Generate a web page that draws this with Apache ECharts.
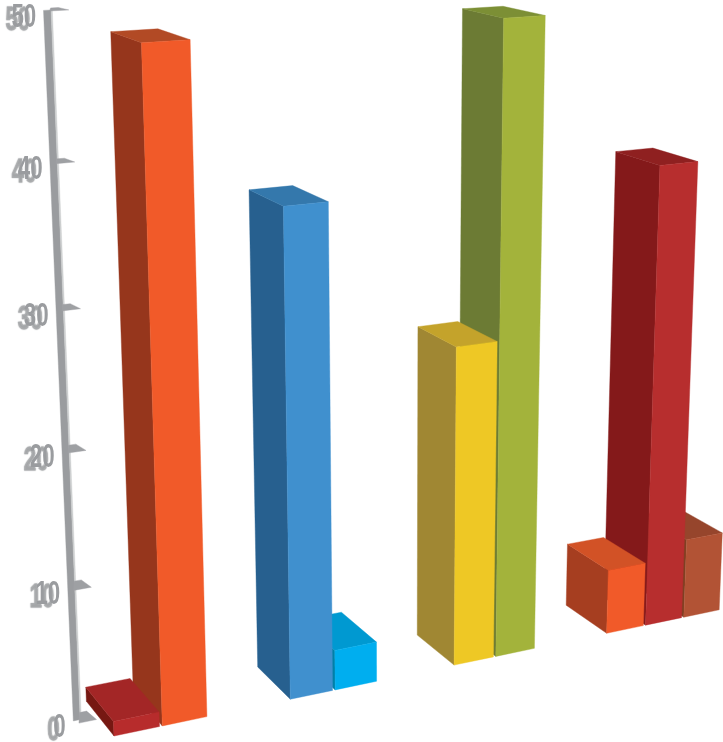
<!DOCTYPE html>
<html>
<head>
<meta charset="utf-8">
<style>html,body{margin:0;padding:0;background:#fff}#c{width:723px;height:742px}</style>
<script src="https://cdn.jsdelivr.net/npm/echarts@6/dist/echarts.min.js"></script>
</head>
<body>
<div id="c"></div>
<script>
// ---- data ----
const categories = ['A', 'B', 'C', 'D'];
const seriesA = [1.1, 36.3, 24.7, 5.2];
const seriesB = [48, 3.1, 48.1, 36.5];
const seriesC = [null, null, null, 6.5];
const tickValues = [0, 10, 20, 30, 40, 50];
const tickLabels = ['0', '10', '20', '30', '40', '50'];

// ---- colours: [front, side, top] per category ----
const paletteA = [['#B72C2C', '#761812', '#A32626'], ['#4090CE', '#27608F', '#3478AC'], ['#EEC825', '#A08733', '#C4A32B'], ['#F15A29', '#A63E20', '#D25226']];
const paletteB = [['#F15A29', '#96361C', '#B24A25'], ['#00AEEF', '#0080A8', '#0099D1'], ['#A3B33B', '#6C7B34', '#7C8F35'], ['#B72E2E', '#84191A', '#8F2020']];
const paletteC = [null, null, null, ['#B25335', '#7F3F22', '#96452C']];

// ---- three-point perspective of the flat chart plane ----
const O = [114, 736], VX = [4900, -262], VZ = [-670, -250], VY = [400, 8500];
const Y_UNIT = 0.0017, GROUP_PITCH = 0.03825, SLOT_PITCH = 0.0102, BAR_W = 0.0096, DEPTH = 0.0365;
const AXIS_X = -0.0045, AXIS_Z = 0.0208, AXIS_HALF = 0.00072, TICK_LEN = 0.0037, TICK_DEPTH = 0.0095;
const H = 742, YMAX = 50;

function project(X, v, Z) {
  const k = -Y_UNIT * v, w = 1 + X + Z + k;
  return [(O[0] + X * VX[0] + Z * VZ[0] + k * VY[0]) / w, (O[1] + X * VX[1] + Z * VZ[1] + k * VY[1]) / w];
}
function flatValue(py) { return (H - py) / H * YMAX; }
function worldX(api, c) { const band = api.size([1, 0])[0]; return (c[0] - band / 2) / band * GROUP_PITCH; }

function poly(points, color) {
  return { type: 'polygon', shape: { points }, style: { fill: color, stroke: color, lineWidth: 0.4 } };
}

function barRenderer(slot, palette) {
  return function (params, api) {
    const cat = api.value(0), val = api.value(1);
    const cTop = api.coord([cat, val]), cBase = api.coord([cat, 0]);
    const v = flatValue(cTop[1]), v0 = flatValue(cBase[1]);
    const X0 = worldX(api, cTop) + slot * SLOT_PITCH, X1 = X0 + BAR_W;
    const col = palette[cat];
    return {
      type: 'group',
      children: [
        poly([project(X0, v0, 0), project(X0, v, 0), project(X0, v, DEPTH), project(X0, v0, DEPTH)], col[1]),
        poly([project(X0, v, 0), project(X1, v, 0), project(X1, v, DEPTH), project(X0, v, DEPTH)], col[2]),
        poly([project(X0, v0, 0), project(X0, v, 0), project(X1, v, 0), project(X1, v0, 0)], col[0])
      ]
    };
  };
}

function axisRenderer(params, api) {
  const vTop = flatValue(api.coord([0, api.value(1)])[1]), vBase = flatValue(api.coord([0, api.value(0)])[1]);
  const xl = AXIS_X - AXIS_HALF, xr = AXIS_X + AXIS_HALF, xe = xr + 0.00025;
  return {
    type: 'group',
    children: [
      poly([project(xl, vBase, AXIS_Z), project(xl, vTop, AXIS_Z), project(xr, vTop, AXIS_Z), project(xr, vBase, AXIS_Z)], '#9A9C9F'),
      poly([project(xr, vBase, AXIS_Z), project(xr, vTop, AXIS_Z), project(xe, vTop, AXIS_Z), project(xe, vBase, AXIS_Z)], '#CDCFD0')
    ]
  };
}

function tickRenderer(params, api) {
  const val = api.value(1), v = flatValue(api.coord([0, val])[1]);
  const z0 = AXIS_Z - 0.003, z1 = z0 + TICK_DEPTH, x0 = AXIS_X, x1 = AXIS_X + TICK_LEN;
  const base = project(AXIS_X, v, AXIS_Z);
  return {
    type: 'group',
    children: [
      poly([project(x0, v, z0), project(x1, v, z0), project(x1 - 0.0006, v, z1), project(x0 + 0.0016, v, z1)], '#9EA0A3'),
      {
        type: 'text',
        x: base[0] - 11, y: base[1] + 7.5,
        scaleX: 0.72, scaleY: 1.05,
        style: {
          text: tickLabels[params.dataIndex],
          font: 'bold 31px "Liberation Sans"',
          fill: '#9A9C9F', stroke: '#ffffff', lineWidth: 1.2,
          align: 'right', verticalAlign: 'middle',
          textShadowColor: '#A4A6A8', textShadowBlur: 1, textShadowOffsetX: -6, textShadowOffsetY: 3,
          shadowColor: '#A4A6A8', shadowBlur: 1, shadowOffsetX: -6, shadowOffsetY: 3
        }
      }
    ]
  };
}

function barData(arr) {
  return arr.map((v, i) => [i, v]).filter(d => d[1] !== null);
}

const chart = echarts.init(document.getElementById('c'), null, { renderer: 'canvas' });
chart.setOption({
  animation: false,
  backgroundColor: '#ffffff',
  tooltip: { show: false },
  grid: { left: 0, right: 0, top: 0, bottom: 0 },
  xAxis: { type: 'category', data: categories, show: false },
  yAxis: { type: 'value', min: 0, max: YMAX, interval: 10, show: false },
  series: [
    { name: 'axis', type: 'custom', z: 1, clip: false, renderItem: axisRenderer, encode: { x: 0, y: 1 }, data: [[tickValues[0], tickValues[tickValues.length - 1]]] },
    { name: 'ticks', type: 'custom', z: 1, clip: false, renderItem: tickRenderer, encode: { x: 0, y: 1 }, data: tickValues.map(v => [0, v]) },
    { name: 'Series C', type: 'custom', z: 2, clip: false, renderItem: barRenderer(2, paletteC), encode: { x: 0, y: 1 }, data: barData(seriesC) },
    { name: 'Series B', type: 'custom', z: 3, clip: false, renderItem: barRenderer(1, paletteB), encode: { x: 0, y: 1 }, data: barData(seriesB) },
    { name: 'Series A', type: 'custom', z: 4, clip: false, renderItem: barRenderer(0, paletteA), encode: { x: 0, y: 1 }, data: barData(seriesA) }
  ]
});
</script>
</body>
</html>
